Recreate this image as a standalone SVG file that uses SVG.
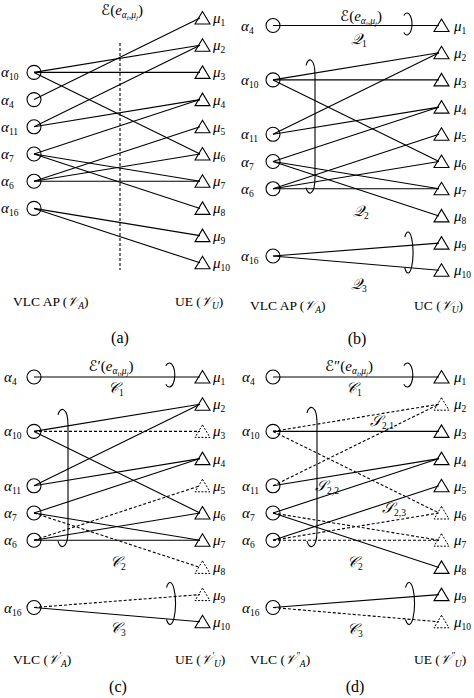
<svg xmlns="http://www.w3.org/2000/svg" width="474" height="698" viewBox="0 0 474 698">
<style>
.e{stroke:#000;stroke-width:1.1;fill:none}
.d{stroke-dasharray:3 2}
.n{fill:none;stroke:#000;stroke-width:1.1}
.nd{fill:none;stroke:#000;stroke-width:1;stroke-dasharray:2 1.5}
.br{fill:none;stroke:#000;stroke-width:1.1}
text{font-family:"Liberation Serif",serif;font-size:15px;fill:#000}
.m{font-style:italic}
.sb{font-style:normal;font-size:9.5px}
.ss{font-size:9.5px;font-style:italic}
.sss{font-size:7px;font-style:italic}
.scr{font-family:"DejaVu Serif","DejaVu Sans","Noto Sans",serif;font-style:italic;font-weight:normal}
.up{font-size:13.5px}
.cap{font-size:16px}
.ti{font-size:15px;font-style:italic}
</style>
<defs>
<polygon id="tri" points="0,-6.5 -7.5,6 7.5,6"/>
<circle id="cir" r="7"/>
</defs>
<rect width="474" height="698" fill="#fff"/>

<!-- Panel (a) -->
<g id="panel-a">
<g id="a-edges" class="e">
<line x1="34" y1="72.4" x2="200" y2="45.2"/>
<line x1="34" y1="72.4" x2="200" y2="72.4"/>
<line x1="34" y1="72.4" x2="200" y2="154"/>
<line x1="34" y1="99.6" x2="200" y2="18"/>
<line x1="34" y1="126.8" x2="200" y2="45.2"/>
<line x1="34" y1="126.8" x2="200" y2="99.6"/>
<line x1="34" y1="154" x2="200" y2="99.6"/>
<line x1="34" y1="154" x2="200" y2="181.2"/>
<line x1="34" y1="154" x2="200" y2="208.4"/>
<line x1="34" y1="181.2" x2="200" y2="126.8"/>
<line x1="34" y1="181.2" x2="200" y2="154"/>
<line x1="34" y1="181.2" x2="200" y2="181.2"/>
<line x1="34" y1="208.4" x2="200" y2="235.6"/>
<line x1="34" y1="208.4" x2="200" y2="262.8"/>
<line class="d" x1="120" y1="43" x2="120" y2="270"/>
</g>
<g id="a-alpha10"><use href="#cir" class="n" x="34" y="72.4"/><text class="m" x="1" y="77.4">α<tspan class="sb" dy="3">10</tspan></text></g>
<g id="a-alpha4"><use href="#cir" class="n" x="34" y="99.6"/><text class="m" x="1" y="104.6">α<tspan class="sb" dy="3">4</tspan></text></g>
<g id="a-alpha11"><use href="#cir" class="n" x="34" y="126.8"/><text class="m" x="1" y="131.8">α<tspan class="sb" dy="3">11</tspan></text></g>
<g id="a-alpha7"><use href="#cir" class="n" x="34" y="154"/><text class="m" x="1" y="159">α<tspan class="sb" dy="3">7</tspan></text></g>
<g id="a-alpha6"><use href="#cir" class="n" x="34" y="181.2"/><text class="m" x="1" y="186.2">α<tspan class="sb" dy="3">6</tspan></text></g>
<g id="a-alpha16"><use href="#cir" class="n" x="34" y="208.4"/><text class="m" x="1" y="213.4">α<tspan class="sb" dy="3">16</tspan></text></g>
<g id="a-mu1"><use href="#tri" class="n" x="202.5" y="18"/><text class="m" x="213" y="23">μ<tspan class="sb" dy="3">1</tspan></text></g>
<g id="a-mu2"><use href="#tri" class="n" x="202.5" y="45.2"/><text class="m" x="213" y="50.2">μ<tspan class="sb" dy="3">2</tspan></text></g>
<g id="a-mu3"><use href="#tri" class="n" x="202.5" y="72.4"/><text class="m" x="213" y="77.4">μ<tspan class="sb" dy="3">3</tspan></text></g>
<g id="a-mu4"><use href="#tri" class="n" x="202.5" y="99.6"/><text class="m" x="213" y="104.6">μ<tspan class="sb" dy="3">4</tspan></text></g>
<g id="a-mu5"><use href="#tri" class="n" x="202.5" y="126.8"/><text class="m" x="213" y="131.8">μ<tspan class="sb" dy="3">5</tspan></text></g>
<g id="a-mu6"><use href="#tri" class="n" x="202.5" y="154"/><text class="m" x="213" y="159">μ<tspan class="sb" dy="3">6</tspan></text></g>
<g id="a-mu7"><use href="#tri" class="n" x="202.5" y="181.2"/><text class="m" x="213" y="186.2">μ<tspan class="sb" dy="3">7</tspan></text></g>
<g id="a-mu8"><use href="#tri" class="n" x="202.5" y="208.4"/><text class="m" x="213" y="213.4">μ<tspan class="sb" dy="3">8</tspan></text></g>
<g id="a-mu9"><use href="#tri" class="n" x="202.5" y="235.6"/><text class="m" x="213" y="240.6">μ<tspan class="sb" dy="3">9</tspan></text></g>
<g id="a-mu10"><use href="#tri" class="n" x="202.5" y="262.8"/><text class="m" x="213" y="267.8">μ<tspan class="sb" dy="3">10</tspan></text></g>
<text class="ti" x="122" y="15" text-anchor="middle"><tspan class="scr" font-size="15">ℰ</tspan><tspan font-style="normal">(</tspan>e<tspan class="ss" dy="3">α</tspan><tspan class="sss" dy="2">i</tspan><tspan class="ss" dy="-2">,μ</tspan><tspan class="sss" dy="2">j</tspan><tspan font-style="normal" dy="-5">)</tspan></text>
<text class="up" x="13" y="306">VLC AP (<tspan class="scr">𝒱</tspan><tspan class="ss" dy="3">A</tspan><tspan dy="-3">)</tspan></text>
<text class="up" x="175" y="306">UE (<tspan class="scr">𝒱</tspan><tspan class="ss" dy="3">U</tspan><tspan dy="-3">)</tspan></text>
<text class="cap" x="120" y="343" text-anchor="middle">(a)</text>
</g>

<!-- Panel (b) -->
<g id="panel-b" transform="translate(239,7.5)">
<g id="b-edges" class="e">
<line x1="34" y1="18" x2="200" y2="18"/>
<line x1="34" y1="72.4" x2="200" y2="45.2"/>
<line x1="34" y1="72.4" x2="200" y2="72.4"/>
<line x1="34" y1="72.4" x2="200" y2="154"/>
<line x1="34" y1="126.8" x2="200" y2="45.2"/>
<line x1="34" y1="126.8" x2="200" y2="99.6"/>
<line x1="34" y1="154" x2="200" y2="99.6"/>
<line x1="34" y1="154" x2="200" y2="181.2"/>
<line x1="34" y1="154" x2="200" y2="208.4"/>
<line x1="34" y1="181.2" x2="200" y2="126.8"/>
<line x1="34" y1="181.2" x2="200" y2="154"/>
<line x1="34" y1="181.2" x2="200" y2="181.2"/>
<line x1="34" y1="248.5" x2="200" y2="235.6"/>
<line x1="34" y1="248.5" x2="200" y2="262.8"/>
<path class="br" d="M164.8,8.1 A5 11 0 1 1 164.8,24.9"/>
<path class="br" d="M67,58 C69,49 76,50 76,68 L76,170 C76,188 69,189 67,180"/>
<path class="br" d="M165.8,229.5 A5 20.5 0 1 1 165.8,260.5"/>
</g>
<g id="b-alpha4"><use href="#cir" class="n" x="34" y="18"/><text class="m" x="2" y="23">α<tspan class="sb" dy="3">4</tspan></text></g>
<g id="b-alpha10"><use href="#cir" class="n" x="34" y="72.4"/><text class="m" x="2" y="77.4">α<tspan class="sb" dy="3">10</tspan></text></g>
<g id="b-alpha11"><use href="#cir" class="n" x="34" y="126.8"/><text class="m" x="2" y="131.8">α<tspan class="sb" dy="3">11</tspan></text></g>
<g id="b-alpha7"><use href="#cir" class="n" x="34" y="154"/><text class="m" x="2" y="159">α<tspan class="sb" dy="3">7</tspan></text></g>
<g id="b-alpha6"><use href="#cir" class="n" x="34" y="181.2"/><text class="m" x="2" y="186.2">α<tspan class="sb" dy="3">6</tspan></text></g>
<g id="b-alpha16"><use href="#cir" class="n" x="34" y="248.5"/><text class="m" x="2" y="253.5">α<tspan class="sb" dy="3">16</tspan></text></g>
<g id="b-mu1"><use href="#tri" class="n" x="202.5" y="18"/><text class="m" x="215" y="23">μ<tspan class="sb" dy="3">1</tspan></text></g>
<g id="b-mu2"><use href="#tri" class="n" x="202.5" y="45.2"/><text class="m" x="215" y="50.2">μ<tspan class="sb" dy="3">2</tspan></text></g>
<g id="b-mu3"><use href="#tri" class="n" x="202.5" y="72.4"/><text class="m" x="215" y="77.4">μ<tspan class="sb" dy="3">3</tspan></text></g>
<g id="b-mu4"><use href="#tri" class="n" x="202.5" y="99.6"/><text class="m" x="215" y="104.6">μ<tspan class="sb" dy="3">4</tspan></text></g>
<g id="b-mu5"><use href="#tri" class="n" x="202.5" y="126.8"/><text class="m" x="215" y="131.8">μ<tspan class="sb" dy="3">5</tspan></text></g>
<g id="b-mu6"><use href="#tri" class="n" x="202.5" y="154"/><text class="m" x="215" y="159">μ<tspan class="sb" dy="3">6</tspan></text></g>
<g id="b-mu7"><use href="#tri" class="n" x="202.5" y="181.2"/><text class="m" x="215" y="186.2">μ<tspan class="sb" dy="3">7</tspan></text></g>
<g id="b-mu8"><use href="#tri" class="n" x="202.5" y="208.4"/><text class="m" x="215" y="213.4">μ<tspan class="sb" dy="3">8</tspan></text></g>
<g id="b-mu9"><use href="#tri" class="n" x="202.5" y="235.6"/><text class="m" x="215" y="240.6">μ<tspan class="sb" dy="3">9</tspan></text></g>
<g id="b-mu10"><use href="#tri" class="n" x="202.5" y="262.8"/><text class="m" x="215" y="267.8">μ<tspan class="sb" dy="3">10</tspan></text></g>
<text class="ti" x="122" y="13" text-anchor="middle"><tspan class="scr" font-size="15">ℰ</tspan><tspan font-style="normal">(</tspan>e<tspan class="ss" dy="3">α</tspan><tspan class="sss" dy="2">i</tspan><tspan class="ss" dy="-2">,μ</tspan><tspan class="sss" dy="2">j</tspan><tspan font-style="normal" dy="-5">)</tspan></text>
<text x="112" y="36"><tspan class="scr">𝒬</tspan><tspan class="sb" dy="3">1</tspan></text>
<text x="114" y="208"><tspan class="scr">𝒬</tspan><tspan class="sb" dy="3">2</tspan></text>
<text x="112" y="281"><tspan class="scr">𝒬</tspan><tspan class="sb" dy="3">3</tspan></text>
<text class="up" x="11" y="302.5">VLC AP (<tspan class="scr">𝒱</tspan><tspan class="ss" dy="3">A</tspan><tspan dy="-3">)</tspan></text>
<text class="up" x="175" y="302.5">UC (<tspan class="scr">𝒱</tspan><tspan class="ss" dy="3">U</tspan><tspan dy="-3">)</tspan></text>
<text class="cap" x="118" y="336" text-anchor="middle">(b)</text>
</g>

<!-- Panel (c) -->
<g id="panel-c" transform="translate(0,359)">
<g id="c-edges" class="e">
<line x1="34" y1="18" x2="200" y2="18"/>
<line x1="34" y1="72.4" x2="200" y2="45.2"/>
<line class="d" x1="34" y1="72.4" x2="200" y2="72.4"/>
<line x1="34" y1="72.4" x2="200" y2="154"/>
<line x1="34" y1="126.8" x2="200" y2="45.2"/>
<line x1="34" y1="126.8" x2="200" y2="99.6"/>
<line x1="34" y1="154" x2="200" y2="99.6"/>
<line x1="34" y1="154" x2="200" y2="181.2"/>
<line class="d" x1="34" y1="154" x2="200" y2="208.4"/>
<line class="d" x1="34" y1="181.2" x2="200" y2="126.8"/>
<line x1="34" y1="181.2" x2="200" y2="154"/>
<line x1="34" y1="181.2" x2="200" y2="181.2"/>
<line class="d" x1="34" y1="248.5" x2="200" y2="235.6"/>
<line x1="34" y1="248.5" x2="200" y2="262.8"/>
<path class="br" d="M165.8,6.8 A5.5 12 0 1 1 165.8,25.2"/>
<path class="br" d="M58,56 C60,47 68,48 68,66 L68,172 C68,190 60,191 58,182"/>
<path class="br" d="M166.5,228.5 A5.5 21 0 1 1 166.5,260.5"/>
</g>
<g id="c-alpha4"><use href="#cir" class="n" x="34" y="18"/><text class="m" x="4" y="23">α<tspan class="sb" dy="3">4</tspan></text></g>
<g id="c-alpha10"><use href="#cir" class="n" x="34" y="72.4"/><text class="m" x="4" y="77.4">α<tspan class="sb" dy="3">10</tspan></text></g>
<g id="c-alpha11"><use href="#cir" class="n" x="34" y="126.8"/><text class="m" x="4" y="131.8">α<tspan class="sb" dy="3">11</tspan></text></g>
<g id="c-alpha7"><use href="#cir" class="n" x="34" y="154"/><text class="m" x="4" y="159">α<tspan class="sb" dy="3">7</tspan></text></g>
<g id="c-alpha6"><use href="#cir" class="n" x="34" y="181.2"/><text class="m" x="4" y="186.2">α<tspan class="sb" dy="3">6</tspan></text></g>
<g id="c-alpha16"><use href="#cir" class="n" x="34" y="248.5"/><text class="m" x="4" y="253.5">α<tspan class="sb" dy="3">16</tspan></text></g>
<g id="c-mu1"><use href="#tri" class="n" x="202.5" y="18"/><text class="m" x="213" y="23">μ<tspan class="sb" dy="3">1</tspan></text></g>
<g id="c-mu2"><use href="#tri" class="n" x="202.5" y="45.2"/><text class="m" x="213" y="50.2">μ<tspan class="sb" dy="3">2</tspan></text></g>
<g id="c-mu3"><use href="#tri" class="nd" x="202.5" y="72.4"/><text class="m" x="213" y="77.4">μ<tspan class="sb" dy="3">3</tspan></text></g>
<g id="c-mu4"><use href="#tri" class="n" x="202.5" y="99.6"/><text class="m" x="213" y="104.6">μ<tspan class="sb" dy="3">4</tspan></text></g>
<g id="c-mu5"><use href="#tri" class="nd" x="202.5" y="126.8"/><text class="m" x="213" y="131.8">μ<tspan class="sb" dy="3">5</tspan></text></g>
<g id="c-mu6"><use href="#tri" class="n" x="202.5" y="154"/><text class="m" x="213" y="159">μ<tspan class="sb" dy="3">6</tspan></text></g>
<g id="c-mu7"><use href="#tri" class="n" x="202.5" y="181.2"/><text class="m" x="213" y="186.2">μ<tspan class="sb" dy="3">7</tspan></text></g>
<g id="c-mu8"><use href="#tri" class="nd" x="202.5" y="208.4"/><text class="m" x="213" y="213.4">μ<tspan class="sb" dy="3">8</tspan></text></g>
<g id="c-mu9"><use href="#tri" class="nd" x="202.5" y="235.6"/><text class="m" x="213" y="240.6">μ<tspan class="sb" dy="3">9</tspan></text></g>
<g id="c-mu10"><use href="#tri" class="n" x="202.5" y="262.8"/><text class="m" x="213" y="267.8">μ<tspan class="sb" dy="3">10</tspan></text></g>
<text class="ti" x="111" y="12" text-anchor="middle"><tspan class="scr" font-size="15">ℰ</tspan><tspan font-style="normal">′(</tspan>e<tspan class="ss" dy="3">α</tspan><tspan class="sss" dy="2">i</tspan><tspan class="ss" dy="-2">,μ</tspan><tspan class="sss" dy="2">j</tspan><tspan font-style="normal" dy="-5">)</tspan></text>
<text x="108" y="34" font-size="18"><tspan class="scr">𝒞</tspan><tspan class="sb" font-size="12" dy="3">1</tspan></text>
<text x="110" y="208" font-size="18"><tspan class="scr">𝒞</tspan><tspan class="sb" font-size="12" dy="3">2</tspan></text>
<text x="110" y="274" font-size="18"><tspan class="scr">𝒞</tspan><tspan class="sb" font-size="12" dy="3">3</tspan></text>
<text class="up" x="13" y="305">VLC (<tspan class="scr">𝒱</tspan><tspan class="ss" dy="-5">′</tspan><tspan class="ss" dy="8">A</tspan><tspan dy="-3">)</tspan></text>
<text class="up" x="175" y="305">UE (<tspan class="scr">𝒱</tspan><tspan class="ss" dy="-5">′</tspan><tspan class="ss" dy="8">U</tspan><tspan dy="-3">)</tspan></text>
<text class="cap" x="118" y="333" text-anchor="middle">(c)</text>
</g>

<!-- Panel (d) -->
<g id="panel-d" transform="translate(239,359)">
<g id="d-edges" class="e">
<line x1="34" y1="18" x2="200" y2="18"/>
<line class="d" x1="34" y1="72.4" x2="200" y2="45.2"/>
<line x1="34" y1="72.4" x2="200" y2="72.4"/>
<line class="d" x1="34" y1="72.4" x2="200" y2="154"/>
<line class="d" x1="34" y1="126.8" x2="200" y2="45.2"/>
<line x1="34" y1="126.8" x2="200" y2="99.6"/>
<line x1="34" y1="154" x2="200" y2="99.6"/>
<line class="d" x1="34" y1="154" x2="200" y2="181.2"/>
<line x1="34" y1="154" x2="200" y2="208.4"/>
<line x1="34" y1="181.2" x2="200" y2="126.8"/>
<line class="d" x1="34" y1="181.2" x2="200" y2="154"/>
<line class="d" x1="34" y1="181.2" x2="200" y2="181.2"/>
<line x1="34" y1="248.5" x2="200" y2="235.6"/>
<line class="d" x1="34" y1="248.5" x2="200" y2="262.8"/>
<path class="br" d="M164.8,6.8 A5.5 12 0 1 1 164.8,25.2"/>
<path class="br" d="M68,54 C70,45 78,46 78,64 L78,172 C78,190 70,191 68,182"/>
<path class="br" d="M166.5,228.5 A5.5 21 0 1 1 166.5,260.5"/>
</g>
<g id="d-alpha4"><use href="#cir" class="n" x="34" y="18"/><text class="m" x="3" y="23">α<tspan class="sb" dy="3">4</tspan></text></g>
<g id="d-alpha10"><use href="#cir" class="n" x="34" y="72.4"/><text class="m" x="3" y="77.4">α<tspan class="sb" dy="3">10</tspan></text></g>
<g id="d-alpha11"><use href="#cir" class="n" x="34" y="126.8"/><text class="m" x="3" y="131.8">α<tspan class="sb" dy="3">11</tspan></text></g>
<g id="d-alpha7"><use href="#cir" class="n" x="34" y="154"/><text class="m" x="3" y="159">α<tspan class="sb" dy="3">7</tspan></text></g>
<g id="d-alpha6"><use href="#cir" class="n" x="34" y="181.2"/><text class="m" x="3" y="186.2">α<tspan class="sb" dy="3">6</tspan></text></g>
<g id="d-alpha16"><use href="#cir" class="n" x="34" y="248.5"/><text class="m" x="3" y="253.5">α<tspan class="sb" dy="3">16</tspan></text></g>
<g id="d-mu1"><use href="#tri" class="n" x="202.5" y="18"/><text class="m" x="215" y="23">μ<tspan class="sb" dy="3">1</tspan></text></g>
<g id="d-mu2"><use href="#tri" class="nd" x="202.5" y="45.2"/><text class="m" x="215" y="50.2">μ<tspan class="sb" dy="3">2</tspan></text></g>
<g id="d-mu3"><use href="#tri" class="n" x="202.5" y="72.4"/><text class="m" x="215" y="77.4">μ<tspan class="sb" dy="3">3</tspan></text></g>
<g id="d-mu4"><use href="#tri" class="n" x="202.5" y="99.6"/><text class="m" x="215" y="104.6">μ<tspan class="sb" dy="3">4</tspan></text></g>
<g id="d-mu5"><use href="#tri" class="n" x="202.5" y="126.8"/><text class="m" x="215" y="131.8">μ<tspan class="sb" dy="3">5</tspan></text></g>
<g id="d-mu6"><use href="#tri" class="nd" x="202.5" y="154"/><text class="m" x="215" y="159">μ<tspan class="sb" dy="3">6</tspan></text></g>
<g id="d-mu7"><use href="#tri" class="nd" x="202.5" y="181.2"/><text class="m" x="215" y="186.2">μ<tspan class="sb" dy="3">7</tspan></text></g>
<g id="d-mu8"><use href="#tri" class="n" x="202.5" y="208.4"/><text class="m" x="215" y="213.4">μ<tspan class="sb" dy="3">8</tspan></text></g>
<g id="d-mu9"><use href="#tri" class="n" x="202.5" y="235.6"/><text class="m" x="215" y="240.6">μ<tspan class="sb" dy="3">9</tspan></text></g>
<g id="d-mu10"><use href="#tri" class="nd" x="202.5" y="262.8"/><text class="m" x="215" y="267.8">μ<tspan class="sb" dy="3">10</tspan></text></g>
<text class="ti" x="110" y="12" text-anchor="middle"><tspan class="scr" font-size="15">ℰ</tspan><tspan font-style="normal">″(</tspan>e<tspan class="ss" dy="3">α</tspan><tspan class="sss" dy="2">i</tspan><tspan class="ss" dy="-2">,μ</tspan><tspan class="sss" dy="2">j</tspan><tspan font-style="normal" dy="-5">)</tspan></text>
<text x="107" y="34" font-size="18"><tspan class="scr">𝒞</tspan><tspan class="sb" font-size="12" dy="3">1</tspan></text>
<text x="108" y="208" font-size="18"><tspan class="scr">𝒞</tspan><tspan class="sb" font-size="12" dy="3">2</tspan></text>
<text x="108" y="275" font-size="18"><tspan class="scr">𝒞</tspan><tspan class="sb" font-size="12" dy="3">3</tspan></text>
<text x="131" y="67" font-size="15"><tspan class="scr">𝒮</tspan><tspan class="sb" dy="3">2,1</tspan></text>
<text x="76" y="132" font-size="15"><tspan class="scr">𝒮</tspan><tspan class="sb" dy="3">2,2</tspan></text>
<text x="143" y="154" font-size="15"><tspan class="scr">𝒮</tspan><tspan class="sb" dy="3">2,3</tspan></text>
<text class="up" x="11" y="305">VLC (<tspan class="scr">𝒱</tspan><tspan class="ss" dy="-5">″</tspan><tspan class="ss" dy="8">A</tspan><tspan dy="-3">)</tspan></text>
<text class="up" x="175" y="305">UE (<tspan class="scr">𝒱</tspan><tspan class="ss" dy="-5">″</tspan><tspan class="ss" dy="8">U</tspan><tspan dy="-3">)</tspan></text>
<text class="cap" x="116" y="333" text-anchor="middle">(d)</text>
</g>
</svg>
